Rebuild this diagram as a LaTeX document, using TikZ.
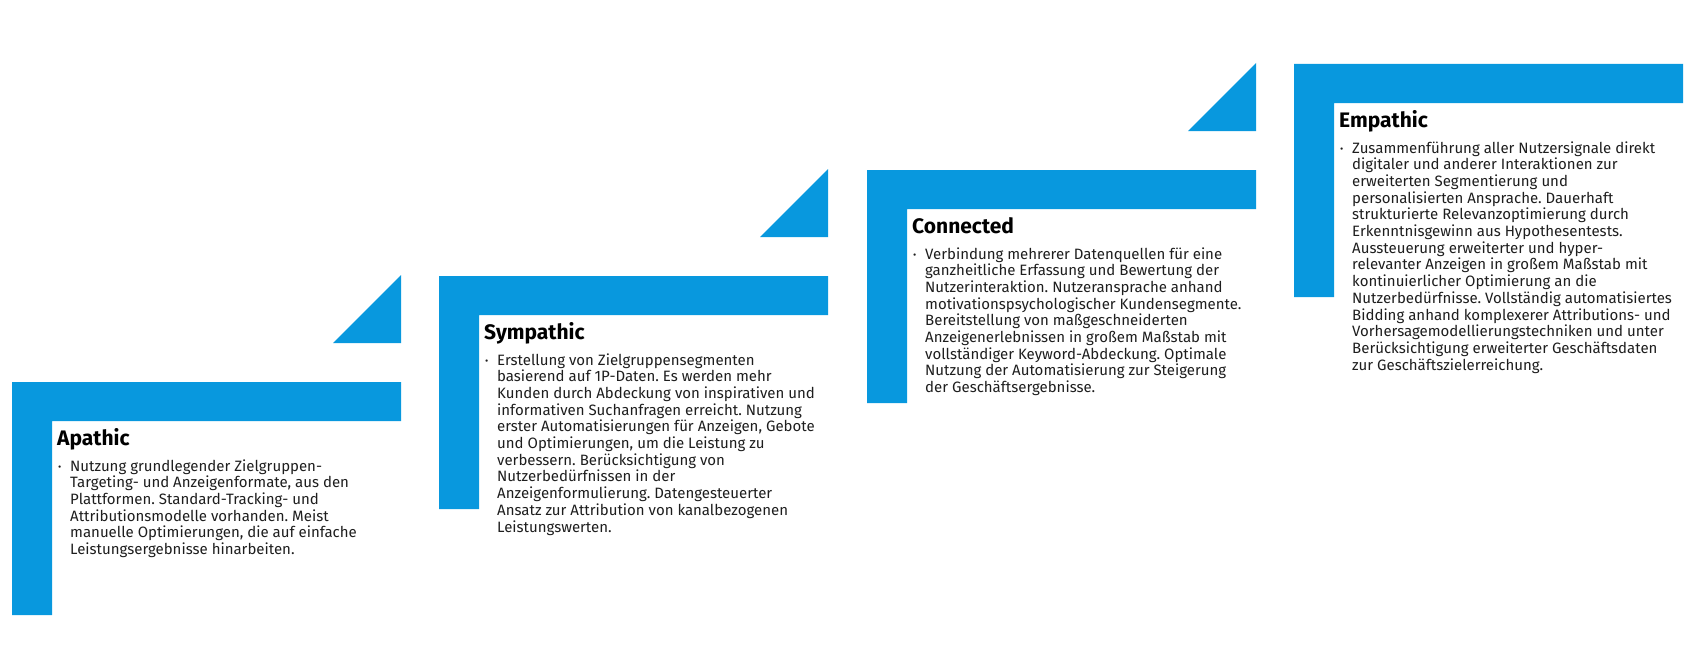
\documentclass[tikz,border=0pt]{standalone}
\usepackage{fontspec}
\setmainfont{Fira Sans}
\frenchspacing
\definecolor{stepblue}{RGB}{8,152,222}
\definecolor{txt}{RGB}{30,30,30}
\newcommand{\bodylines}[1]{\parbox[t]{400pt}{\raggedright\frenchspacing #1}}
\begin{document}
\begin{tikzpicture}[x=1pt,y=-1pt,
  bluefill/.style={fill=stepblue,draw=none},
  titletext/.style={anchor=base west,inner sep=0pt,font=\fontsize{21}{24}\selectfont\bfseries,text=black},
  bodytext/.style={anchor=base west,inner sep=0pt,font=\fontsize{15}{16.7}\selectfont,text=txt},
  bulletmark/.style={anchor=base west,inner sep=0pt,font=\fontsize{10}{10}\selectfont,text=txt}]
\useasboundingbox (0,0) rectangle (1700,661);
\fill[white] (0,0) rectangle (1700,661);
% L shapes
\foreach \bx/\by in {12/382,439/276,867/170,1294/64}{
  \fill[bluefill] (\bx,\by) -- (\bx+389,\by) -- (\bx+389,\by+39) -- (\bx+40,\by+39) -- (\bx+40,\by+233) -- (\bx,\by+233) -- cycle;
}
% triangles
\foreach \bx/\by in {12/382,439/276,867/170}{
  \fill[bluefill] (\bx+389,\by-107) -- (\bx+389,\by-39) -- (\bx+321,\by-39) -- cycle;
}
% Apathic
\node[titletext] (t1) at (57,445) {Apathic};
\node[bulletmark] (b1) at (58,470) {•};
\node[bodytext] (x1) at (70,471) {\bodylines{Nutzung grundlegender Zielgruppen-\\Targeting- und Anzeigenformate, aus den\\Plattformen. Standard-Tracking- und\\Attributionsmodelle vorhanden. Meist\\manuelle Optimierungen, die auf einfache\\Leistungsergebnisse hinarbeiten.}};
% Sympathic
\node[titletext] (t2) at (484,339) {Sympathic};
\node[bulletmark] (b2) at (485,364) {•};
\node[bodytext] (x2) at (497,365) {\bodylines{Erstellung von Zielgruppensegmenten\\basierend auf 1P-Daten. Es werden mehr\\Kunden durch Abdeckung von inspirativen und\\informativen Suchanfragen erreicht. Nutzung\\erster Automatisierungen für Anzeigen, Gebote\\und Optimierungen, um die Leistung zu\\verbessern. Berücksichtigung von\\Nutzerbedürfnissen in der\\Anzeigenformulierung. Datengesteuerter\\Ansatz zur Attribution von kanalbezogenen\\Leistungswerten.}};
% Connected
\node[titletext] (t3) at (912,233) {Connected};
\node[bulletmark] (b3) at (913,258) {•};
\node[bodytext] (x3) at (925,259) {\bodylines{Verbindung mehrerer Datenquellen für eine\\ganzheitliche Erfassung und Bewertung der\\Nutzerinteraktion. Nutzeransprache anhand\\motivationspsychologischer Kundensegmente.\\Bereitstellung von maßgeschneiderten\\Anzeigenerlebnissen in großem Maßstab mit\\vollständiger Keyword-Abdeckung. Optimale\\Nutzung der Automatisierung zur Steigerung\\der Geschäftsergebnisse.}};
% Empathic
\node[titletext] (t4) at (1339,127) {Empathic};
\node[bulletmark] (b4) at (1340,152) {•};
\node[bodytext] (x4) at (1352,153) {\bodylines{Zusammenführung aller Nutzersignale direkt\\digitaler und anderer Interaktionen zur\\erweiterten Segmentierung und\\personalisierten Ansprache. Dauerhaft\\strukturierte Relevanzoptimierung durch\\Erkenntnisgewinn aus Hypothesentests.\\Aussteuerung erweiterter und hyper-\\relevanter Anzeigen in großem Maßstab mit\\kontinuierlicher Optimierung an die\\Nutzerbedürfnisse. Vollständig automatisiertes\\Bidding anhand komplexerer Attributions- und\\Vorhersagemodellierungstechniken und unter\\Berücksichtigung erweiterter Geschäftsdaten\\zur Geschäftszielerreichung.}};
\end{tikzpicture}
\end{document}
